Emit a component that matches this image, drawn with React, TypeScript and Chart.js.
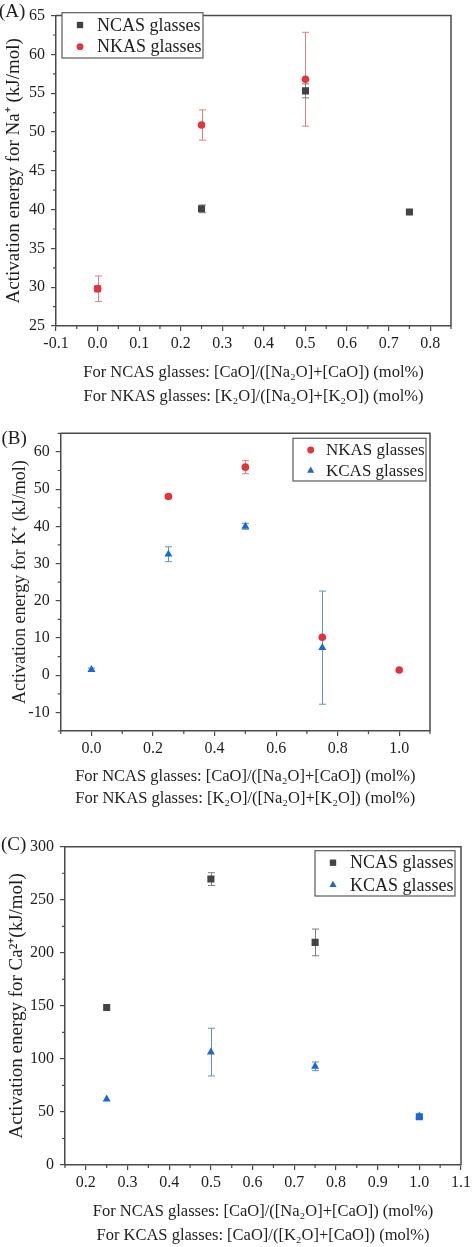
import React, { useEffect, useRef } from 'react';
import { Chart, registerables } from 'chart.js';

Chart.register(...registerables);

const SERIF = '"Liberation Serif", "Times New Roman", Times, serif';
const INK = '#1e1e1e';
const FRAME = '#4a4a4a';

const GRAY = '#434343';
const RED = '#E5333C';
const BLUE = '#1A68D6';
const GRAY_ERR = '#7c7c7c';
const RED_ERR = '#E07F84';
const BLUE_ERR = '#6090D4';

// (A) activation energy for Na+
const naNcasRatio = [0, 0.25, 0.5, 0.75];
const naNcasEnergy = [29.8, 40.1, 55.3, 39.7];
const naNcasError = [0, 0.5, 0.9, 0.3];
const naNkasRatio = [0, 0.25, 0.5];
const naNkasEnergy = [29.8, 50.9, 56.8];
const naNkasError = [1.65, 1.95, 6.05];
const naXTicks = [-0.1, 0.0, 0.1, 0.2, 0.3, 0.4, 0.5, 0.6, 0.7, 0.8];
const naYTicks = [25, 30, 35, 40, 45, 50, 55, 60, 65];

// (B) activation energy for K+
const kNkasRatio = [0.25, 0.5, 0.75, 1.0];
const kNkasEnergy = [48.0, 55.9, 10.2, 1.4];
const kNkasError = [0.5, 1.75, 0, 0];
const kKcasRatio = [0, 0.25, 0.5, 0.75];
const kKcasEnergy = [1.5, 32.5, 40.0, 7.4];
const kKcasError = [0.4, 2.0, 0.8, 15.2];
const kXTicks = [0.0, 0.2, 0.4, 0.6, 0.8, 1.0];
const kYTicks = [-10, 0, 10, 20, 30, 40, 50, 60];

// (C) activation energy for Ca2+
const caNcasRatio = [0.25, 0.5, 0.75, 1.0];
const caNcasEnergy = [148.5, 269.5, 209.8, 45.5];
const caNcasError = [0, 6.0, 12.6, 0];
const caKcasRatio = [0.25, 0.5, 0.75, 1.0];
const caKcasEnergy = [62.0, 106.4, 93.0, 46.0];
const caKcasError = [0, 22.5, 4.1, 1.5];
const caXTicks = [0.2, 0.3, 0.4, 0.5, 0.6, 0.7, 0.8, 0.9, 1.0, 1.1];
const caYTicks = [0, 50, 100, 150, 200, 250, 300];

const NCAS_NA_TITLE = 'For NCAS glasses: [CaO]/([Na₂O]+[CaO]) (mol%)';
const NKAS_TITLE = 'For NKAS glasses: [K₂O]/([Na₂O]+[K₂O]) (mol%)';
const KCAS_TITLE = 'For KCAS glasses: [CaO]/([K₂O]+[CaO]) (mol%)';

type MarkStyle = 'rect' | 'circle' | 'triangle';

interface Series {
  label: string;
  x: number[];
  y: number[];
  err: number[];
  style: MarkStyle;
  colors: string | string[];
  legendColor: string;
  errColor: string;
  radius: number;
}

interface PanelSpec {
  letter: string;
  letterPos: [number, number];
  top: number;
  height: number;
  area: { left: number; right: number; top: number; bottom: number };
  xRange: [number, number];
  yRange: [number, number];
  xTicks: number[];
  yTicks: number[];
  xDecimals: number;
  xTitle: string[];
  xTitleLine: number;
  xTitlePad: number;
  yTitle: string;
  yTitleSize: number;
  yTitlePad: number;
  legend: { box: [number, number, number, number]; symX: number; textX: number; rows: number[]; size: number };
  legendOrder: number[];
  series: Series[];
}

function minorValues(majors: number[], min: number, max: number): number[] {
  const out: number[] = [];
  const step = majors[1] - majors[0];
  const eps = step * 1e-6;
  const first = majors[0] - step / 2;
  if (first >= min - eps) out.push(first);
  for (let i = 0; i < majors.length - 1; i++) out.push((majors[i] + majors[i + 1]) / 2);
  const last = majors[majors.length - 1] + step / 2;
  if (last <= max + eps) out.push(last);
  return out;
}

function drawMark(ctx: CanvasRenderingContext2D, style: MarkStyle, x: number, y: number, r: number, color: string) {
  ctx.fillStyle = color;
  ctx.beginPath();
  if (style === 'rect') {
    const h = r * Math.SQRT1_2;
    ctx.rect(x - h, y - h, 2 * h, 2 * h);
  } else if (style === 'circle') {
    ctx.arc(x, y, r, 0, Math.PI * 2);
  } else {
    ctx.moveTo(x, y - r);
    ctx.lineTo(x + r * Math.sin(Math.PI / 3), y + r / 2);
    ctx.lineTo(x - r * Math.sin(Math.PI / 3), y + r / 2);
    ctx.closePath();
  }
  ctx.fill();
}

const decorPlugin = {
  id: 'panelDecor',
  beforeDatasetsDraw(chart: any) {
    const ctx: CanvasRenderingContext2D = chart.ctx;
    const xs = chart.scales.x;
    const ys = chart.scales.y;
    ctx.save();
    ctx.lineWidth = 1;
    chart.data.datasets.forEach((ds: any) => {
      const err: number[] | undefined = ds.errors;
      if (!err) return;
      ctx.strokeStyle = ds.errorColor;
      ds.data.forEach((p: any, i: number) => {
        const e = err[i];
        if (!e) return;
        const px = Math.round(xs.getPixelForValue(p.x)) + 0.5;
        const hi = ys.getPixelForValue(p.y + e);
        const lo = ys.getPixelForValue(p.y - e);
        ctx.beginPath();
        ctx.moveTo(px, hi);
        ctx.lineTo(px, lo);
        ctx.moveTo(px - 3.5, hi);
        ctx.lineTo(px + 3.5, hi);
        ctx.moveTo(px - 3.5, lo);
        ctx.lineTo(px + 3.5, lo);
        ctx.stroke();
      });
    });
    ctx.restore();
  },
  afterDraw(chart: any, _args: any, opts: any) {
    const spec: PanelSpec = opts.spec;
    if (!spec) return;
    const ctx: CanvasRenderingContext2D = chart.ctx;
    const a = chart.chartArea;
    const xs = chart.scales.x;
    const ys = chart.scales.y;
    ctx.save();

    // closing frame on the top and right
    ctx.strokeStyle = FRAME;
    ctx.lineWidth = 1.5;
    ctx.beginPath();
    ctx.moveTo(a.left, a.top);
    ctx.lineTo(a.right, a.top);
    ctx.lineTo(a.right, a.bottom);
    ctx.stroke();

    // minor ticks, pointing outward
    ctx.lineWidth = 1.2;
    ctx.beginPath();
    minorValues(spec.xTicks, spec.xRange[0], spec.xRange[1]).forEach((v) => {
      const p = xs.getPixelForValue(v);
      ctx.moveTo(p, a.bottom);
      ctx.lineTo(p, a.bottom + 3);
    });
    minorValues(spec.yTicks, spec.yRange[0], spec.yRange[1]).forEach((v) => {
      const p = ys.getPixelForValue(v);
      ctx.moveTo(a.left, p);
      ctx.lineTo(a.left - 3, p);
    });
    ctx.stroke();

    // legend box
    const L = spec.legend;
    ctx.strokeStyle = '#5a5a5a';
    ctx.lineWidth = 1.2;
    ctx.fillStyle = '#ffffff';
    ctx.fillRect(L.box[0], L.box[1], L.box[2], L.box[3]);
    ctx.strokeRect(L.box[0], L.box[1], L.box[2], L.box[3]);
    ctx.font = `${L.size}px ${SERIF}`;
    ctx.textBaseline = 'middle';
    ctx.textAlign = 'left';
    spec.legendOrder.forEach((si, row) => {
      const s = spec.series[si];
      drawMark(ctx, s.style, L.symX, L.rows[row], s.radius * 0.9, s.legendColor);
      ctx.fillStyle = INK;
      ctx.fillText(s.label, L.textX, L.rows[row] + 1);
    });

    // panel letter
    ctx.font = `19px ${SERIF}`;
    ctx.fillStyle = INK;
    ctx.textBaseline = 'middle';
    ctx.fillText(spec.letter, spec.letterPos[0], spec.letterPos[1]);
    ctx.restore();
  },
};

function buildConfig(spec: PanelSpec): any {
  const W = 474;
  const { area } = spec;
  return {
    type: 'scatter',
    data: {
      datasets: spec.series.map((s) => ({
        label: s.label,
        data: s.x.map((x, i) => ({ x, y: s.y[i] })),
        pointStyle: s.style,
        pointRadius: s.radius,
        pointHoverRadius: s.radius,
        pointBackgroundColor: s.colors,
        pointBorderWidth: 0,
        showLine: false,
        errors: s.err,
        errorColor: s.errColor,
      })),
    },
    options: {
      responsive: false,
      animation: false,
      events: [],
      layout: {
        autoPadding: false,
        padding: { left: 0, top: area.top, right: W - area.right, bottom: 0 },
      },
      plugins: {
        legend: { display: false },
        tooltip: { enabled: false },
        panelDecor: { spec },
      },
      scales: {
        x: {
          type: 'linear',
          min: spec.xRange[0],
          max: spec.xRange[1],
          afterBuildTicks: (s: any) => {
            s.ticks = spec.xTicks.map((v) => ({ value: v }));
          },
          afterFit: (s: any) => {
            s.height = spec.height - area.bottom;
          },
          ticks: {
            autoSkip: false,
            maxRotation: 0,
            padding: 3,
            color: INK,
            font: { family: SERIF, size: 16 },
            callback: (v: number) => Number(v).toFixed(spec.xDecimals),
          },
          grid: { display: true, drawOnChartArea: false, drawTicks: true, tickLength: 5, color: FRAME, lineWidth: 1.2 },
          border: { display: true, color: FRAME, width: 1.5 },
          title: {
            display: true,
            text: spec.xTitle,
            color: INK,
            font: { family: SERIF, size: 16.5, lineHeight: spec.xTitleLine / 16.5 },
            padding: { top: 0, bottom: spec.xTitlePad },
          },
        },
        y: {
          type: 'linear',
          min: spec.yRange[0],
          max: spec.yRange[1],
          afterBuildTicks: (s: any) => {
            s.ticks = spec.yTicks.map((v) => ({ value: v }));
          },
          afterFit: (s: any) => {
            s.width = area.left;
          },
          ticks: {
            autoSkip: false,
            padding: 6,
            color: INK,
            font: { family: SERIF, size: 16 },
            callback: (v: number) => String(v),
          },
          grid: { display: true, drawOnChartArea: false, drawTicks: true, tickLength: 5, color: FRAME, lineWidth: 1.2 },
          border: { display: true, color: FRAME, width: 1.5 },
          title: {
            display: true,
            text: spec.yTitle,
            color: INK,
            font: { family: SERIF, size: spec.yTitleSize, lineHeight: 1.2 },
            padding: { top: spec.yTitlePad, bottom: 0 },
          },
        },
      },
    },
    plugins: [decorPlugin],
  };
}

const PANELS: PanelSpec[] = [
  {
    letter: '(A)',
    letterPos: [-1, 12.5],
    top: 0,
    height: 410,
    area: { left: 56, right: 451, top: 8.3, bottom: 326 },
    xRange: [-0.1, 0.85],
    yRange: [25, 65],
    xTicks: naXTicks,
    yTicks: naYTicks,
    xDecimals: 1,
    xTitle: [NCAS_NA_TITLE, NKAS_TITLE],
    xTitleLine: 24,
    xTitlePad: 1,
    yTitle: 'Activation energy for Na⁺ (kJ/mol)',
    yTitleSize: 19,
    yTitlePad: 2.3,
    legend: { box: [62, 12.7, 141, 45.3], symX: 80, textX: 97, rows: [25, 46.7], size: 18 },
    legendOrder: [1, 0],
    series: [
      { label: 'NKAS glasses', x: naNkasRatio, y: naNkasEnergy, err: naNkasError, style: 'circle', colors: RED, legendColor: RED, errColor: RED_ERR, radius: 3.8 },
      { label: 'NCAS glasses', x: naNcasRatio, y: naNcasEnergy, err: naNcasError, style: 'rect', colors: [RED, GRAY, GRAY, GRAY], legendColor: GRAY, errColor: GRAY_ERR, radius: 5 },
    ],
  },
  {
    letter: '(B)',
    letterPos: [1.5, 29],
    top: 410,
    height: 400,
    area: { left: 60.7, right: 430, top: 23.3, bottom: 321 },
    xRange: [-0.1, 1.1],
    yRange: [-15, 65],
    xTicks: kXTicks,
    yTicks: kYTicks,
    xDecimals: 1,
    xTitle: [NCAS_NA_TITLE, NKAS_TITLE],
    xTitleLine: 22.5,
    xTitlePad: 0,
    yTitle: 'Activation energy for K⁺ (kJ/mol)',
    yTitleSize: 18,
    yTitlePad: 9.6,
    legend: { box: [293, 28.3, 133, 42.7], symX: 310.7, textX: 326, rows: [40, 60.7], size: 17 },
    legendOrder: [0, 1],
    series: [
      { label: 'NKAS glasses', x: kNkasRatio, y: kNkasEnergy, err: kNkasError, style: 'circle', colors: RED, legendColor: RED, errColor: RED_ERR, radius: 3.8 },
      { label: 'KCAS glasses', x: kKcasRatio, y: kKcasEnergy, err: kKcasError, style: 'triangle', colors: BLUE, legendColor: BLUE, errColor: BLUE_ERR, radius: 4.6 },
    ],
  },
  {
    letter: '(C)',
    letterPos: [1, 35.5],
    top: 810,
    height: 437,
    area: { left: 65, right: 461.7, top: 36.7, bottom: 355 },
    xRange: [0.15, 1.1],
    yRange: [0, 300],
    xTicks: caXTicks,
    yTicks: caYTicks,
    xDecimals: 1,
    xTitle: [NCAS_NA_TITLE, KCAS_TITLE],
    xTitleLine: 23.5,
    xTitlePad: 0,
    yTitle: 'Activation energy for Ca²⁺(kJ/mol)',
    yTitleSize: 19,
    yTitlePad: 6.1,
    legend: { box: [315, 40.7, 140, 45.3], symX: 333, textX: 350, rows: [52.7, 75], size: 18 },
    legendOrder: [1, 0],
    series: [
      { label: 'KCAS glasses', x: caKcasRatio, y: caKcasEnergy, err: caKcasError, style: 'triangle', colors: BLUE, legendColor: BLUE, errColor: BLUE_ERR, radius: 4.6 },
      { label: 'NCAS glasses', x: caNcasRatio, y: caNcasEnergy, err: caNcasError, style: 'rect', colors: [GRAY, GRAY, GRAY, BLUE], legendColor: GRAY, errColor: GRAY_ERR, radius: 5 },
    ],
  },
];

function Panel({ spec }: { spec: PanelSpec }) {
  const ref = useRef<HTMLCanvasElement>(null);
  useEffect(() => {
    if (!ref.current) return;
    const chart = new Chart(ref.current, buildConfig(spec));
    return () => chart.destroy();
  }, [spec]);
  return (
    <canvas
      ref={ref}
      width={474}
      height={spec.height}
      style={{ position: 'absolute', left: 0, top: spec.top, width: 474, height: spec.height }}
    />
  );
}

export default function App() {
  return (
    <div style={{ position: 'absolute', left: 0, top: 0, width: 474, height: 1247, background: '#ffffff', overflow: 'hidden' }}>
      {PANELS.map((p) => (
        <Panel key={p.letter} spec={p} />
      ))}
    </div>
  );
}
